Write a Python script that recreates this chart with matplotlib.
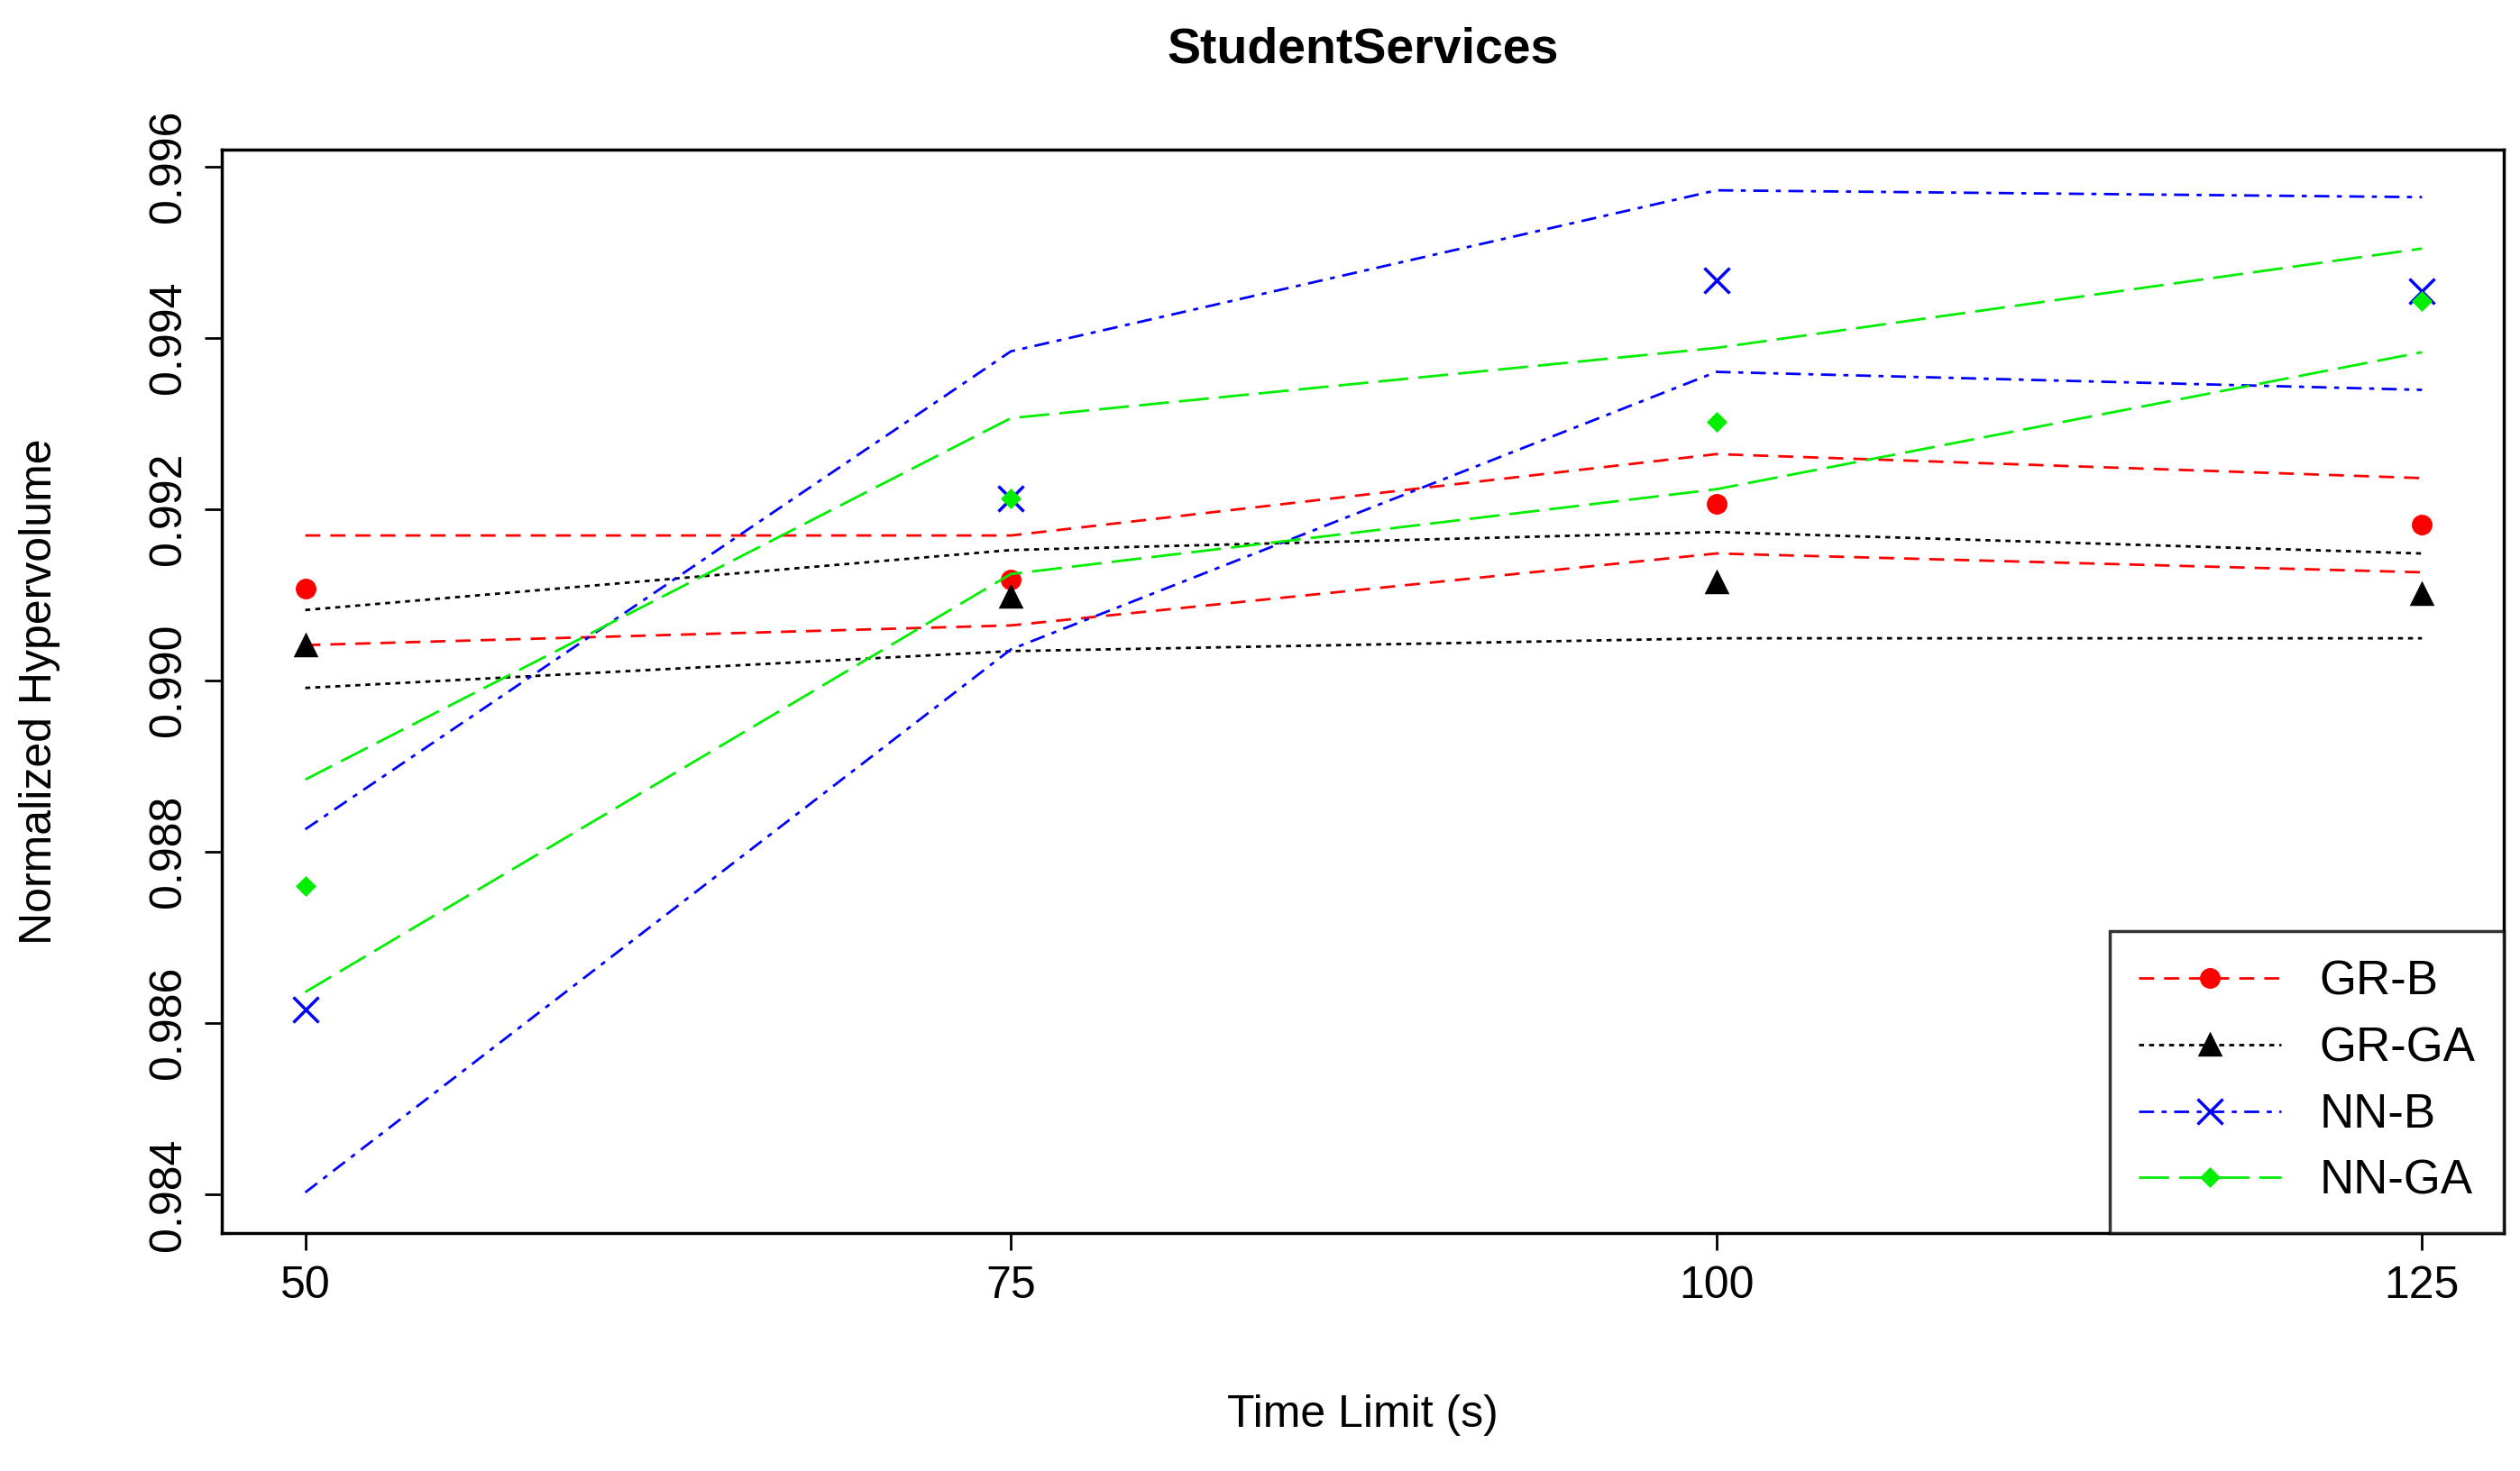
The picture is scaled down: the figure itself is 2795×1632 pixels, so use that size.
import matplotlib
matplotlib.use("Agg")
import matplotlib.pyplot as plt
plt.rcParams["font.family"] = "Liberation Sans"

x = [50, 75, 100, 125]
grb_pts = [0.99107, 0.99118, 0.99206, 0.99182]
grb_hi = [0.99169, 0.99169, 0.99264, 0.99236]
grb_lo = [0.99041, 0.99064, 0.99148, 0.99126]
grga_pts = [0.99041, 0.99098, 0.99114, 0.99101]
grga_hi = [0.99082, 0.99152, 0.99173, 0.99148]
grga_lo = [0.98991, 0.99034, 0.99049, 0.99049]
nnb_pts = [0.98616, 0.99212, 0.99467, 0.99454]
nnb_hi = [0.98826, 0.99384, 0.99572, 0.99564]
nnb_lo = [0.98402, 0.99036, 0.99360, 0.99339]
nnga_pts = [0.98760, 0.99212, 0.99302, 0.99443]
nnga_hi = [0.98884, 0.99306, 0.99388, 0.99504]
nnga_lo = [0.98636, 0.99124, 0.99223, 0.99383]
yticks = [0.984, 0.986, 0.988, 0.990, 0.992, 0.994, 0.996]

fig = plt.figure(figsize=(27.95, 16.32), dpi=100)
ax = fig.add_axes([0.088, 0.162, 0.9056, 0.736])
lw = 2.0
series = [
    ("GR-B", grb_pts, grb_hi, grb_lo, "#ff0000", (0, (6, 4)), "o", 14),
    ("GR-GA", grga_pts, grga_hi, grga_lo, "#000000", (0, (2, 2)), "^", 16),
    ("NN-B", nnb_pts, nnb_hi, nnb_lo, "#0000ff", (0, (6, 3, 2, 3)), "x", 20),
    ("NN-GA", nnga_pts, nnga_hi, nnga_lo, "#00ee00", (0, (12, 4)), "D", 9),
]
handles = []
for name, p, hi, lo, c, ls, m, ms in series:
    ax.plot(x, hi, color=c, linestyle=ls, lw=lw)
    ax.plot(x, lo, color=c, linestyle=ls, lw=lw)
    ax.plot(x, p, linestyle="none", marker=m, color=c, ms=ms, mew=2.5)
    h, = ax.plot([], [], color=c, linestyle=ls, lw=lw, marker=m, ms=ms, mew=2.5)
    handles.append(h)

ax.set_xlim(47.04, 127.9)
ax.set_ylim(0.98355, 0.99619)
ax.set_xticks(x)
ax.set_xticklabels([str(v) for v in x])
ax.set_yticks(yticks)
ax.set_yticklabels([f"{v:.3f}" for v in yticks], rotation=90, va="center")
ax.tick_params(labelsize=36, length=14, width=2, pad=12)
for s in ax.spines.values():
    s.set_linewidth(2.5)
ax.set_xlabel("Time Limit (s)", fontsize=36, labelpad=70)
ax.set_ylabel("Normalized Hypervolume", fontsize=36, labelpad=70)
ax.set_title("StudentServices", fontsize=40, fontweight="bold", pad=70)
leg = ax.legend(handles, [s[0] for s in series], loc="lower right", fontsize=38,
                frameon=True, fancybox=False, borderaxespad=0, handlelength=3,
                labelspacing=0.45, borderpad=0.6, edgecolor="black")
leg.get_frame().set_linewidth(2.5)
fig.savefig("out.png", dpi=100)
